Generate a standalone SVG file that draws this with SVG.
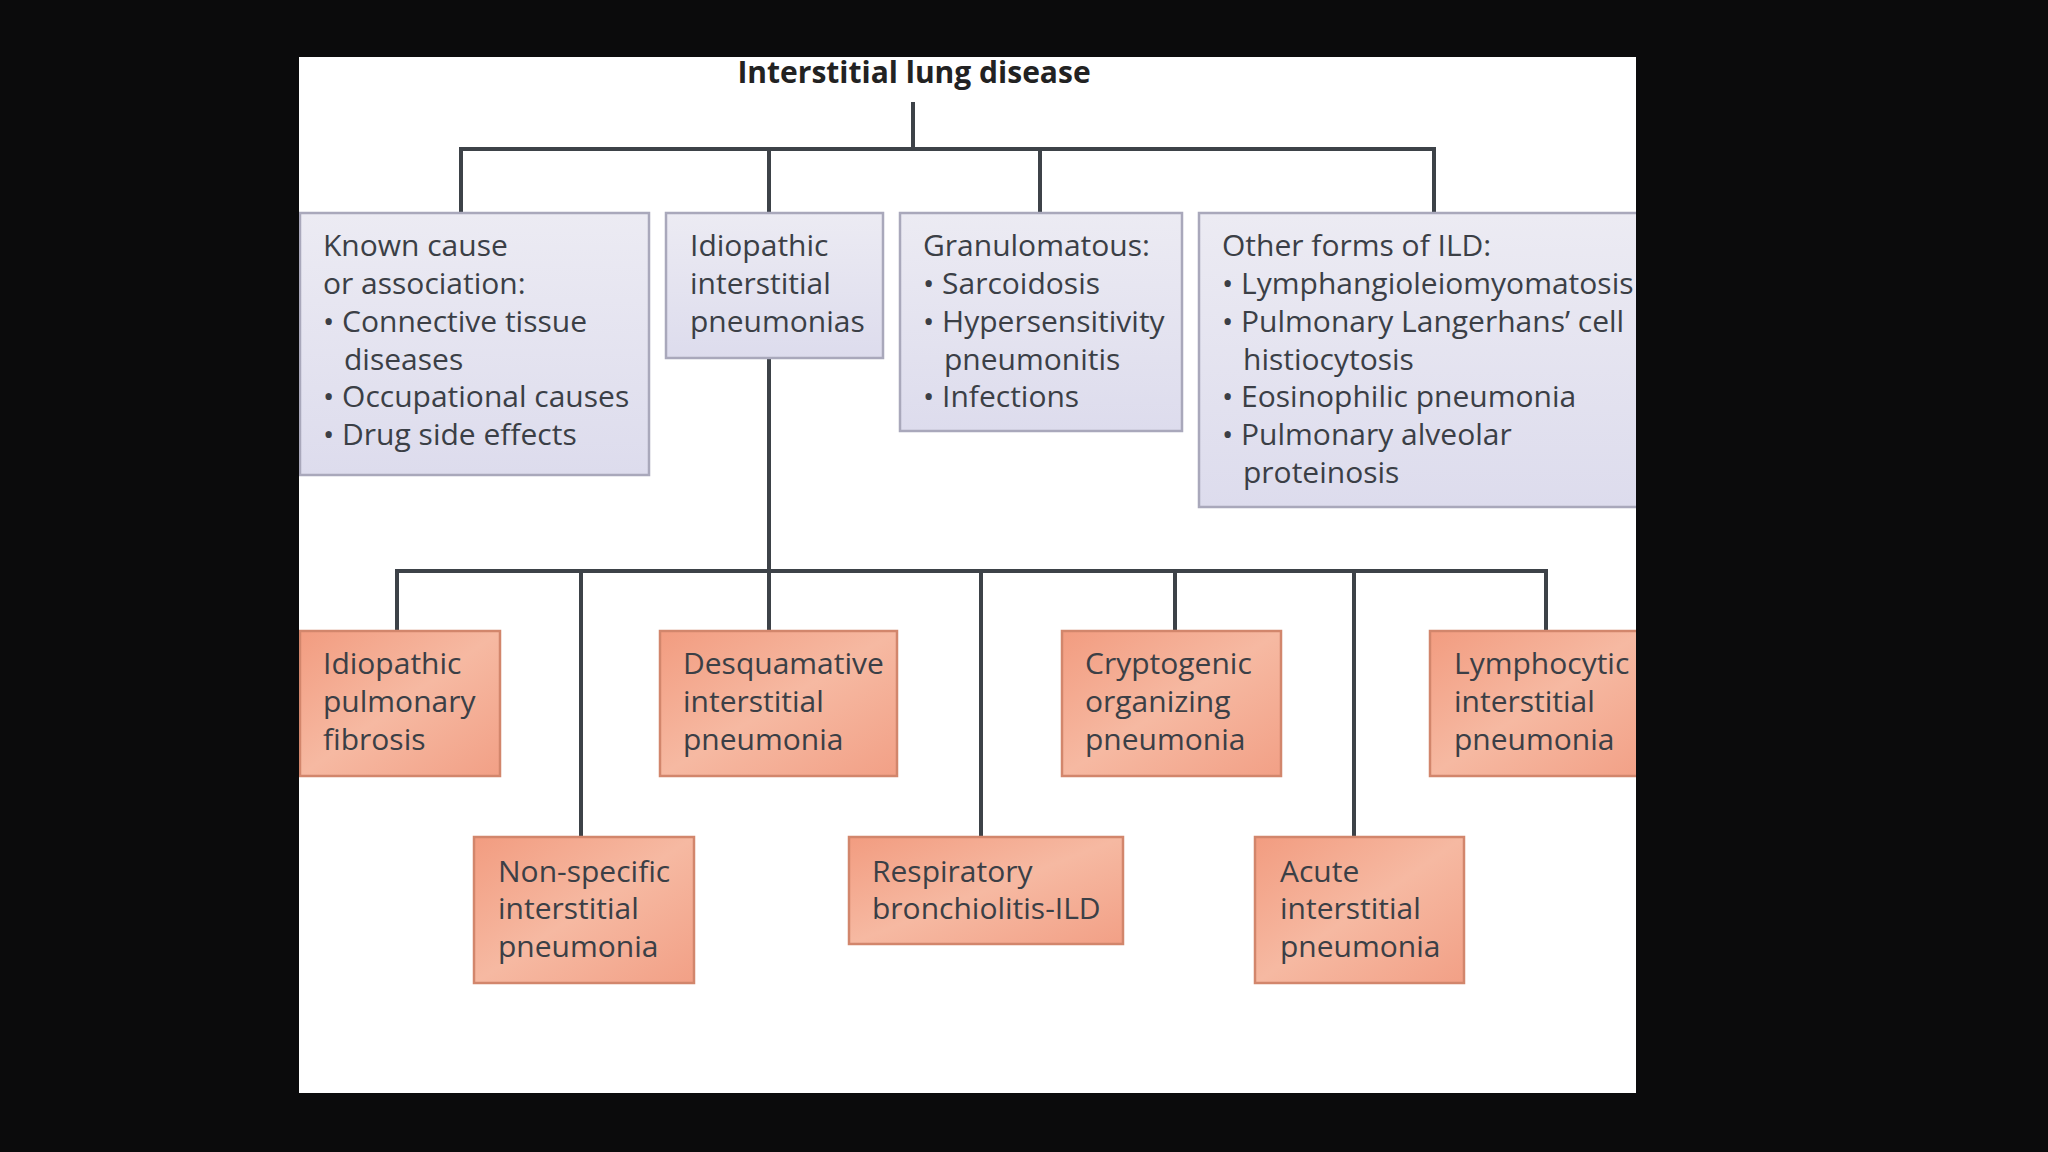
<svg xmlns="http://www.w3.org/2000/svg" width="2048" height="1152" viewBox="0 0 2048 1152">
<defs>
<linearGradient id="g" x1="0" y1="0" x2="0" y2="1"><stop offset="0" stop-color="#ecebf3"/><stop offset="1" stop-color="#dddced"/></linearGradient>
<linearGradient id="s" x1="0" y1="0" x2="1" y2="1"><stop offset="0" stop-color="#f29c80"/><stop offset="0.5" stop-color="#f6b9a2"/><stop offset="1" stop-color="#f2a086"/></linearGradient>
<clipPath id="panel"><rect x="299" y="57" width="1337" height="1036"/></clipPath>
</defs>
<style>
text{font-family:"Open Sans","Liberation Sans",sans-serif;font-size:30px;fill:#3b3f46}
.t{font-weight:bold;font-size:30px;fill:#222}
.gb{fill:url(#g);stroke:#a9a8bb;stroke-width:2.5}
.sb{fill:url(#s);stroke:#d2866c;stroke-width:2.5}
.c{stroke:#3d4248;stroke-width:4;fill:none}
</style>
<rect width="2048" height="1152" fill="#0b0b0c"/>
<rect x="299" y="57" width="1337" height="1036" fill="#fff"/>
<g clip-path="url(#panel)">
<text class="t" x="914" y="83" text-anchor="middle">Interstitial lung disease</text>
<g id="connectors">
<path class="c" d="M913 102V149M461 213V149H1434V213M769 149V213M1040 149V213"/>
<path class="c" d="M769 358V571M397 631V571H1546V631M581 571V837M769 571V631M981 571V837M1175 571V631M1354 571V837"/>
</g>
<g id="known"><rect class="gb" x="300" y="213" width="349" height="262"/>
<text x="323" y="256">Known cause</text><text x="323" y="294">or association:</text>
<text x="323" y="332">• Connective tissue</text><text x="344" y="370">diseases</text>
<text x="323" y="407">• Occupational causes</text><text x="323" y="445">• Drug side effects</text></g>
<g id="iip"><rect class="gb" x="666" y="213" width="217" height="145"/>
<text x="690" y="256">Idiopathic</text><text x="690" y="294">interstitial</text><text x="690" y="332">pneumonias</text></g>
<g id="gran"><rect class="gb" x="900" y="213" width="282" height="218"/>
<text x="923" y="256">Granulomatous:</text><text x="923" y="294">• Sarcoidosis</text>
<text x="923" y="332">• Hypersensitivity</text><text x="944" y="370">pneumonitis</text><text x="923" y="407">• Infections</text></g>
<g id="other"><rect class="gb" x="1199" y="213" width="445" height="294"/>
<text x="1222" y="256">Other forms of ILD:</text><text x="1222" y="294">• Lymphangioleiomyomatosis</text>
<text x="1222" y="332">• Pulmonary Langerhans’ cell</text><text x="1243" y="370">histiocytosis</text>
<text x="1222" y="407">• Eosinophilic pneumonia</text><text x="1222" y="445">• Pulmonary alveolar</text><text x="1243" y="483">proteinosis</text></g>
<g id="ipf"><rect class="sb" x="300" y="631" width="200" height="145"/>
<text x="323" y="674">Idiopathic</text><text x="323" y="712">pulmonary</text><text x="323" y="750">fibrosis</text></g>
<g id="dip"><rect class="sb" x="660" y="631" width="237" height="145"/>
<text x="683" y="674">Desquamative</text><text x="683" y="712">interstitial</text><text x="683" y="750">pneumonia</text></g>
<g id="cop"><rect class="sb" x="1062" y="631" width="219" height="145"/>
<text x="1085" y="674">Cryptogenic</text><text x="1085" y="712">organizing</text><text x="1085" y="750">pneumonia</text></g>
<g id="lip"><rect class="sb" x="1430" y="631" width="214" height="145"/>
<text x="1454" y="674">Lymphocytic</text><text x="1454" y="712">interstitial</text><text x="1454" y="750">pneumonia</text></g>
<g id="nsip"><rect class="sb" x="474" y="837" width="220" height="146"/>
<text x="498" y="882">Non-specific</text><text x="498" y="919">interstitial</text><text x="498" y="957">pneumonia</text></g>
<g id="rb"><rect class="sb" x="849" y="837" width="274" height="107"/>
<text x="872" y="882">Respiratory</text><text x="872" y="919">bronchiolitis-ILD</text></g>
<g id="aip"><rect class="sb" x="1255" y="837" width="209" height="146"/>
<text x="1280" y="882">Acute</text><text x="1280" y="919">interstitial</text><text x="1280" y="957">pneumonia</text></g>
</g>
</svg>
